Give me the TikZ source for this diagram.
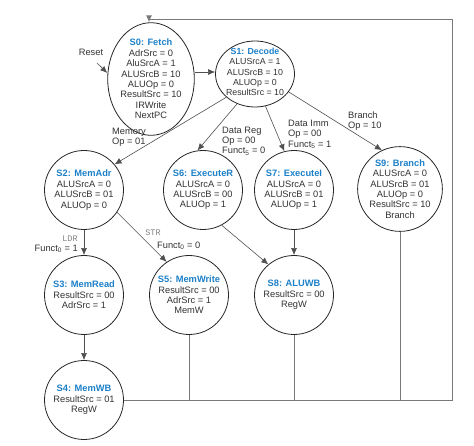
\documentclass[tikz,border=0pt]{standalone}
\usepackage{fontspec}
\setmainfont{Liberation Sans}
\newfontfamily\monof{Liberation Mono}
\usetikzlibrary{shapes.geometric,arrows.meta}
\definecolor{ttl}{RGB}{28,128,200}
\definecolor{txt}{RGB}{50,50,50}
\definecolor{edg}{RGB}{80,80,80}
\definecolor{frm}{RGB}{120,120,120}
\newcommand{\ttlx}[1]{{\color{ttl}\bfseries #1}}
\tikzset{
  st/.style={circle,draw=black!85,line width=0.8pt,minimum size=79pt,inner sep=0pt,
    align=center,text=txt,font=\fontsize{9.3}{10.4}\selectfont},
  lbl/.style={align=left,text=txt,inner sep=0pt,font=\fontsize{9.3}{10.4}\selectfont},
  mono/.style={inner sep=0pt,text=black!50,font=\monof\fontsize{8.5}{9}\selectfont},
  conn/.style={draw=edg,line width=0.6pt,-{Latex[length=7pt,width=6pt]}},
  frame/.style={draw=frm,line width=1pt},
}
\begin{document}
\begin{tikzpicture}[x=1pt,y=-1pt]
\useasboundingbox (0,0) rectangle (474,446);
% states
\node[st,ellipse,minimum width=84pt,minimum height=90pt] (s0) at (151,79)
  {\ttlx{S0: Fetch}\\AdrSrc = 0\\AluSrcA = 1\\ALUSrcB = 10\\ALUOp = 0\\ResultSrc = 10\\IRWrite\\NextPC};
\node[st,ellipse,minimum width=79pt,minimum height=66pt] (s1) at (255,74) {};
\node[lbl,align=center,font=\fontsize{8.8}{10.25}\selectfont] (s1t) at (255,72)
  {\ttlx{S1: Decode}\\ALUSrcA = 1\\ALUSrcB = 10\\ALUOp = 0\\ResultSrc = 10};
\node[st] (s2) at (84,190) {\ttlx{S2: MemAdr}\\ALUSrcA = 0\\ALUSrcB = 01\\ALUOp = 0};
\node[st] (s6) at (203,190) {\ttlx{S6: ExecuteR}\\ALUSrcA = 0\\ALUSrcB = 00\\ALUOp = 1};
\node[st] (s7) at (294,190) {\ttlx{S7: ExecuteI}\\ALUSrcA = 0\\ALUSrcB = 01\\ALUOp = 1};
\node[st] (s9) at (400,189) {\ttlx{S9: Branch}\\ALUSrcA = 0\\ALUSrcB = 01\\ALUOp = 0\\ResultSrc = 10\\Branch};
\node[st] (s3) at (84,295) {\ttlx{S3: MemRead}\\ResultSrc = 00\\AdrSrc = 1};
\node[st] (s5) at (189,295) {\ttlx{S5: MemWrite}\\ResultSrc = 00\\AdrSrc = 1\\MemW};
\node[st] (s8) at (294,295) {\ttlx{S8: ALUWB}\\ResultSrc = 00\\RegW};
\node[st] (s4) at (84,400) {\ttlx{S4: MemWB}\\ResultSrc = 01\\RegW};
% reset
\node[lbl] (reset) at (91,52) {Reset};
\coordinate (rs) at (97,63);
\draw[conn] (rs) -- (s0.west |- 0,73) ;
% transitions
\draw[conn] (s0.east |- 0,72) -- (s1.west |- 0,72);
\draw[conn] (s1.219) -- (s2.40);
\draw[conn] (s1.239) -- (s6.98);
\draw[conn] (s1.288) -- (s7.104);
\draw[conn] (s1.332) -- (s9.115);
\draw[conn] (s2.south) -- (s3.north);
\draw[conn] (s2.326) -- (s5.124);
\draw[conn] (s6.298) -- (s8.130);
\draw[conn] (s7.south) -- (s8.north);
\draw[conn] (s3.south) -- (s4.north);
% labels
\node[lbl,anchor=west] (lmem) at (112,137.5) {Memory\\Op = 01};
\node[lbl,anchor=west] (lreg) at (222,141) {Data Reg\\Op = 00\\Funct\textsubscript{5} = 0};
\node[lbl,anchor=west] (limm) at (288,134.5) {Data Imm\\Op = 00\\Funct\textsubscript{5} = 1};
\node[lbl,anchor=west] (lbr) at (348,121) {Branch\\Op = 10};
\node[mono] (ldr) at (70,239) {LDR};
\node[lbl,anchor=east] (lf1) at (78,249) {Funct\textsubscript{0} = 1};
\node[mono] (str) at (153,233) {STR};
\node[lbl,anchor=west] (lf0) at (157,246) {Funct\textsubscript{0} = 0};
% return path
\coordinate (br) at (452,400);
\coordinate (tr) at (452,20);
\coordinate (tl) at (149,20);
\draw[frame] (s4.east) -- (br) -- (tr) -- (tl);
\draw[frame,-{Latex[length=7pt,width=6pt]}] (tl) -- (s0.north -| tl);
\draw[frame] (s5.south) -- (s5.south |- br);
\draw[frame] (s8.south) -- (s8.south |- br);
\draw[frame] (s9.south) -- (s9.south |- br);
\end{tikzpicture}
\end{document}
